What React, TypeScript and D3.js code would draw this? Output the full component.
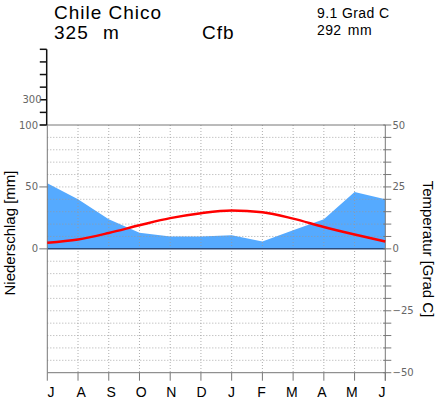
import * as d3 from "d3";

// Climate diagram (Walter-Lieth style), Chile Chico, months from July to June
const months = ["J", "A", "S", "O", "N", "D", "J", "F", "M", "A", "M", "J"];
const precipitation = [53, 40, 24, 13, 10, 10, 11, 6, 15, 24, 46, 40];
const temperature = [2.5, 3.8, 6.4, 9.5, 12.4, 14.4, 15.5, 14.8, 12.2, 8.8, 5.8, 3.0];
const tempTicks = [-50, -25, 0, 25, 50];
const precipTicks = [0, 50, 100];
const upperTicks = [100, 200, 300, 400, 500, 600, 700];

const station = "Chile Chico";
const altitude = "325 m";
const climateClass = "Cfb";
const meanTemp = "9.1 Grad C";
const totalPrecip = "292 mm";

const W = 436;
const H = 400;
const left = 47.3;
const right = 385.3;
const top = 125;
const bottom = 372.7;

export default function App() {
  const x = d3.scaleLinear().domain([0, months.length - 1]).range([left, right]);
  // month labels are spread a bit narrower than the ticks
  const xLabel = d3.scaleLinear().domain([0, months.length - 1]).range([51, 382]);
  const yT = d3.scaleLinear().domain([-50, 50]).range([bottom, top]);
  const yP = d3.scaleLinear().domain([0, 100]).range([yT(0), top]);
  const yUp = d3.scaleLinear().domain([100, 700]).range([top, 49.3]);

  const area = d3
    .area<number>()
    .x((_, i) => x(i))
    .y0(yP(0))
    .y1((d) => yP(d));

  const line = d3
    .line<number>()
    .x((_, i) => x(i))
    .y((d) => yT(d))
    .curve(d3.curveMonotoneX);

  const gridY = d3.range(-45, 50, 5).filter((v) => v !== 0);
  const gridX = d3.range(1, months.length - 1);
  const rightTicks = d3.range(-50, 55, 5);

  const sans = "'Liberation Sans', Arial, Helvetica, sans-serif";
  const tickFont = "'DejaVu Sans', sans-serif";
  const grey = "#777";

  return (
    <svg
      width={W}
      height={H}
      style={{ position: "absolute", left: 0, top: 0, background: "#fff" }}
      fontFamily={sans}
    >
      {/* header */}
      <g fontSize={19} letterSpacing={1}>
        <text x={54} y={19}>{station}</text>
        <text x={54} y={39} wordSpacing={8}>{altitude}</text>
        <text x={202} y={39}>{climateClass}</text>
      </g>
      <g fontSize={14} letterSpacing={0.4}>
        <text x={317} y={18}>{meanTemp}</text>
        <text x={317} y={35} wordSpacing={2}>{totalPrecip}</text>
      </g>

      {/* precipitation area */}
      <path d={area(precipitation) ?? ""} fill="#55aaff" />

      {/* dotted grid */}
      <g stroke="#999" strokeOpacity={0.8} strokeDasharray="1,2">
        {gridY.map((v) => (
          <line key={"h" + v} x1={left} x2={right} y1={yT(v)} y2={yT(v)} />
        ))}
        {gridX.map((i) => (
          <line key={"v" + i} x1={x(i)} x2={x(i)} y1={top} y2={bottom} />
        ))}
      </g>

      {/* zero line */}
      <line x1={left} x2={right} y1={yT(0)} y2={yT(0)} stroke="#2b4c7e" strokeWidth={1.5} />

      {/* frame: top, left, right, bottom */}
      <g stroke={grey} strokeWidth={1}>
        <line x1={left} x2={right} y1={top} y2={top} />
        <line x1={left} x2={left} y1={top} y2={bottom} />
        <line x1={right} x2={right} y1={top} y2={bottom + 8} />
        <line x1={left} x2={right} y1={bottom} y2={bottom} />
        {months.map((_, i) => (
          <line key={"bt" + i} x1={x(i)} x2={x(i)} y1={bottom} y2={bottom + 8} />
        ))}
        {rightTicks.map((v) => (
          <line key={"rt" + v} x1={right - 2} x2={right + 6} y1={yT(v)} y2={yT(v)} />
        ))}
        {precipTicks.map((v) => (
          <line key={"lt" + v} x1={left - 8} x2={left} y1={yP(v)} y2={yP(v)} />
        ))}
      </g>

      {/* upper compressed precipitation axis */}
      <g stroke="#111" strokeWidth={1.5}>
        <line x1={left - 0.6} x2={left - 0.6} y1={yUp(700)} y2={top} />
        {upperTicks.map((v) => (
          <line key={"ut" + v} x1={left - 7.5} x2={left - 0.6} y1={yUp(v)} y2={yUp(v)} />
        ))}
      </g>

      {/* temperature curve */}
      <path d={line(temperature) ?? ""} fill="none" stroke="#ff0000" strokeWidth={2.5} />

      {/* tick labels */}
      <g fontFamily={tickFont} fontSize={10} fill="#666">
        {precipTicks.map((v) => (
          <text key={"pl" + v} x={38} y={yP(v)} textAnchor="end" dominantBaseline="central">
            {v}
          </text>
        ))}
        <text x={41.5} y={yUp(300)} textAnchor="end" dominantBaseline="central">
          300
        </text>
        {tempTicks.map((v) => (
          <text key={"tl" + v} x={392.5} y={yT(v)} dominantBaseline="central">
            {v < 0 ? "\u2212" + Math.abs(v) : v}
          </text>
        ))}
      </g>

      {/* month labels */}
      <g fontSize={14} textAnchor="middle">
        {months.map((m, i) => (
          <text key={"m" + i} x={xLabel(i)} y={397}>
            {m}
          </text>
        ))}
      </g>

      {/* axis titles */}
      <text x={15} y={233} fontSize={15} textAnchor="middle" transform="rotate(-90 15 233)">
        Niederschlag [mm]
      </text>
      <text x={422.6} y={249} fontSize={15} textAnchor="middle" transform="rotate(90 422.6 249)">
        Temperatur [Grad C]
      </text>
    </svg>
  );
}
